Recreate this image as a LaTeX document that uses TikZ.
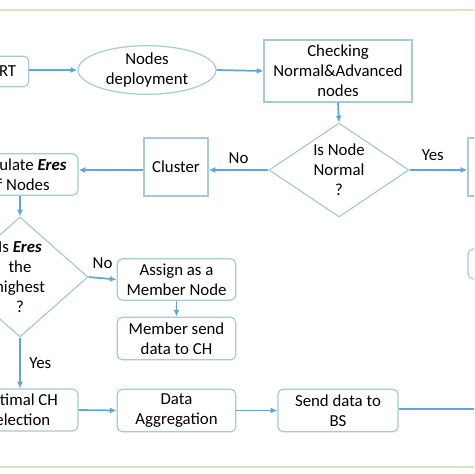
\documentclass[tikz,border=0pt]{standalone}
\usepackage{fontspec}
\setmainfont{Carlito}
\usetikzlibrary{shapes.geometric,arrows.meta}

\definecolor{boxline}{HTML}{A6CAD6}
\definecolor{flowline}{HTML}{5EA6D8}
\definecolor{frameline}{HTML}{D3E6BE}

\tikzset{
  box/.style={draw=boxline,line width=0.9pt,align=center,inner sep=0pt,
    font=\fontsize{12.6}{15}\selectfont},
  rbox/.style={box,rounded corners=4pt},
  decide/.style={box,diamond},
  flow/.style={draw=flowline,line width=1.3pt,-{Latex[length=5pt,width=4.5pt]}},
  lbl/.style={font=\fontsize{12.6}{15}\selectfont}
}

\begin{document}
\begin{tikzpicture}[x=0.75pt,y=-0.75pt]
\useasboundingbox (0,0) rectangle (474,474);
\clip (0,0) rectangle (474,474);

\draw[frameline,line width=1.2pt] (-60,10) rectangle (540,467);

% top row
\node[rbox,minimum width=50pt,minimum height=23pt] (start) at (-4.5,71.5) {START};
\node[box,ellipse,minimum width=103.5pt,minimum height=34.5pt] (deploy) at (147,70) {Nodes\\deployment};
\node[box,minimum width=111pt,minimum height=46.5pt] (check) at (338,71) {Checking\\Normal\&Advanced\\nodes};
\node[decide,aspect=1.49,minimum width=105pt,minimum height=70.5pt] (normal) at (339,170) {Is Node\\Normal\\?};

% left branch
\node[box,minimum width=48pt,minimum height=43.5pt] (cluster) at (176,167) {Cluster};
\node[rbox,minimum width=88.5pt,minimum height=31pt] (calc) at (19,174.5) {Calculate \textbf{\textit{Eres}}\\of Nodes};
\node[decide,aspect=1.13,minimum width=102pt,minimum height=90pt] (highest) at (20,277) {Is \textbf{\textit{Eres}}\\the\\highest\\?};
\node[rbox,minimum width=89pt,minimum height=31pt] (assign) at (176.5,279.5) {Assign as a\\Member Node};
\node[rbox,minimum width=89pt,minimum height=32pt] (member) at (176.5,338.5) {Member send\\data to CH};

% bottom row
\node[rbox,minimum width=88.5pt,minimum height=31.5pt] (optimal) at (19,410) {Optimal CH\\Selection};
\node[rbox,minimum width=89pt,minimum height=32pt] (aggr) at (176.5,410.5) {Data\\Aggregation};
\node[rbox,minimum width=90pt,minimum height=32pt] (send) at (338,410.5) {Send data to\\BS};
\coordinate (bsend) at (500,409);

% right side
\node[box,minimum width=90pt,minimum height=43.5pt] (advanced) at (528,167) {};
\node[rbox,minimum width=90pt,minimum height=22.5pt] (advnext) at (528,264) {};

% connectors
\draw[flow] (start.east |- deploy) -- (deploy.west);
\draw[flow] (deploy.east) -- (check.west);
\draw[flow] (check.south) -- (normal.north);
\draw[flow] (normal.west) -- (normal.west -| cluster.east) node[lbl,pos=0.5,above=1pt] (no1) {No};
\draw[flow] (normal.west -| cluster.west) -- (normal.west -| calc.east);
\draw[flow] (normal.east) -- (normal.east -| advanced.west) node[lbl,pos=0.4,above=3pt] (yes1) {Yes};
\draw[flow] (calc.south -| highest.north) -- (highest.north);
\draw[flow] (highest.east) -- (assign.west) node[lbl,pos=0.5,above=3pt] (no2) {No};
\draw[flow] (assign.south) -- (member.north);
\draw[flow] (highest.south) -- (highest.south |- optimal.north) node[lbl,pos=0.5,right=3pt] (yes2) {Yes};
\draw[flow] (optimal.east) -- (aggr.west);
\draw[flow] (aggr.east) -- (send.west);
\draw[draw=flowline,line width=1.3pt] (send.east |- bsend) -- (bsend);

\end{tikzpicture}
\end{document}
